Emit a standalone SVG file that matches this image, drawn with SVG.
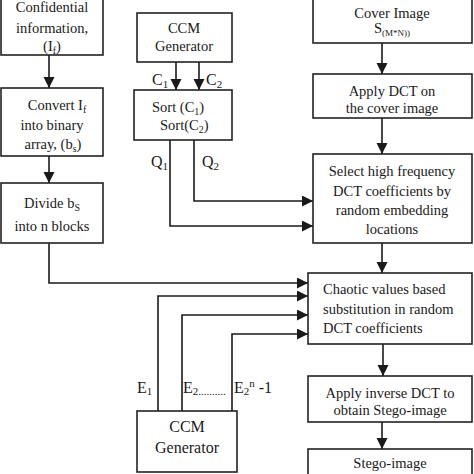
<svg xmlns="http://www.w3.org/2000/svg" width="474" height="474" viewBox="0 0 474 474" font-family="'Liberation Serif', 'Times New Roman', 'DejaVu Serif', serif">
<defs>
<marker id="ah" markerUnits="userSpaceOnUse" markerWidth="12" markerHeight="12" refX="11" refY="5.5" orient="auto">
<path d="M0,0 L11,5.5 L0,11 z" fill="#1a1a1a"/>
</marker>
<style>
.box{fill:#fff;stroke:#222;stroke-width:1.6}
.t{font-size:14.5px;fill:#1a1a1a;text-anchor:middle}
.s{font-size:14.5px;fill:#1a1a1a;text-anchor:start}
.l{font-size:16px;fill:#1a1a1a}
.c{fill:none;stroke:#1a1a1a;stroke-width:1.6;marker-end:url(#ah)}
</style>
</defs>
<rect width="474" height="474" fill="#fff"/>
<g id="connectors">
<path class="c" d="M49,55 V88"/>
<path class="c" d="M49,156 V183"/>
<path class="c" d="M49,243 V283 H308"/>
<path class="c" d="M176,62 V90"/>
<path class="c" d="M199,62 V90"/>
<path class="c" d="M194,140 V201 H313"/>
<path class="c" d="M170,140 V226 H313"/>
<path class="c" d="M382,43 V74"/>
<path class="c" d="M382,118 V154"/>
<path class="c" d="M382,243 V273"/>
<path class="c" d="M158,411 V296 H308"/>
<path class="c" d="M182,411 V315 H308"/>
<path class="c" d="M232,411 V334 H308"/>
<path class="c" d="M383,344 V376"/>
<path class="c" d="M382,422 V449"/>
</g>
<g id="n1">
<rect class="box" x="1" y="-2" width="102" height="57"/>
<text class="t" x="52" y="12">Confidential</text>
<text class="t" x="52" y="33">information,</text>
<text class="t" x="52" y="51">(I<tspan font-size="10" dy="3">f</tspan><tspan dy="-3">)</tspan></text>
</g>
<g id="n2">
<rect class="box" x="1" y="88" width="102" height="68"/>
<text class="t" x="57" y="110">Convert I<tspan font-size="10" dy="3">f</tspan></text>
<text class="t" x="52" y="130">into binary</text>
<text class="t" x="53" y="149">array, (b<tspan font-size="10" dy="3">s</tspan><tspan dy="-3">)</tspan></text>
</g>
<g id="n3">
<rect class="box" x="1" y="183" width="102" height="60"/>
<text class="t" x="52" y="208">Divide b<tspan font-size="10" dy="3">S</tspan></text>
<text class="t" x="52" y="231">into n blocks</text>
</g>
<g id="n4">
<rect class="box" x="137" y="13" width="95" height="49"/>
<text class="t" x="184" y="33">CCM</text>
<text class="t" x="184" y="51">Generator</text>
</g>
<g id="n5">
<rect class="box" x="134" y="90" width="98" height="50"/>
<text class="s" x="152" y="112">Sort (C<tspan font-size="10" dy="3">1</tspan><tspan dy="-3">)</tspan></text>
<text class="s" x="160" y="130">Sort(C<tspan font-size="10" dy="3">2</tspan><tspan dy="-3">)</tspan></text>
</g>
<g id="labels">
<text class="l" x="152" y="85">C<tspan font-size="11" dy="3">1</tspan></text>
<text class="l" x="206" y="85">C<tspan font-size="11" dy="3">2</tspan></text>
<text class="l" x="151" y="167">Q<tspan font-size="11" dy="3">1</tspan></text>
<text class="l" x="202" y="167">Q<tspan font-size="11" dy="3">2</tspan></text>
<text class="l" x="137" y="393">E<tspan font-size="11" dy="2">1</tspan></text>
<text class="l" x="183" y="393">E<tspan font-size="11" dy="2">2..........</tspan></text>
<text class="l" x="234" y="393">E<tspan font-size="11" dy="2">2</tspan><tspan font-size="11" dy="-8">n</tspan><tspan dy="6"> -1</tspan></text>
</g>
<g id="n6">
<rect class="box" x="313" y="-2" width="159" height="45"/>
<text class="t" x="392" y="18">Cover Image</text>
<text class="t" x="392" y="33">S<tspan font-size="9" dy="3">(M*N))</tspan></text>
</g>
<g id="n7">
<rect class="box" x="313" y="74" width="159" height="44"/>
<text class="t" x="392" y="96">Apply DCT on</text>
<text class="t" x="392" y="113">the cover image</text>
</g>
<g id="n8">
<rect class="box" x="313" y="154" width="159" height="89"/>
<text class="t" x="392" y="176">Select high frequency</text>
<text class="t" x="392" y="196">DCT coefficients by</text>
<text class="t" x="392" y="215">random embedding</text>
<text class="t" x="392" y="234">locations</text>
</g>
<g id="n9">
<rect class="box" x="308" y="273" width="164" height="71"/>
<text class="s" x="323" y="294">Chaotic values based</text>
<text class="s" x="323" y="314">substitution in random</text>
<text class="s" x="323" y="333">DCT coefficients</text>
</g>
<g id="n10">
<rect class="box" x="308" y="376" width="164" height="46"/>
<text class="t" x="390" y="398">Apply inverse DCT to</text>
<text class="t" x="390" y="415">obtain Stego-image</text>
</g>
<g id="n11">
<rect class="box" x="308" y="449" width="164" height="32"/>
<text class="t" x="390" y="468">Stego-image</text>
</g>
<g id="n12">
<rect class="box" x="137" y="411" width="100" height="61"/>
<text class="t" x="187" y="432" style="font-size:16px">CCM</text>
<text class="t" x="187" y="453" style="font-size:16px">Generator</text>
</g>
</svg>
